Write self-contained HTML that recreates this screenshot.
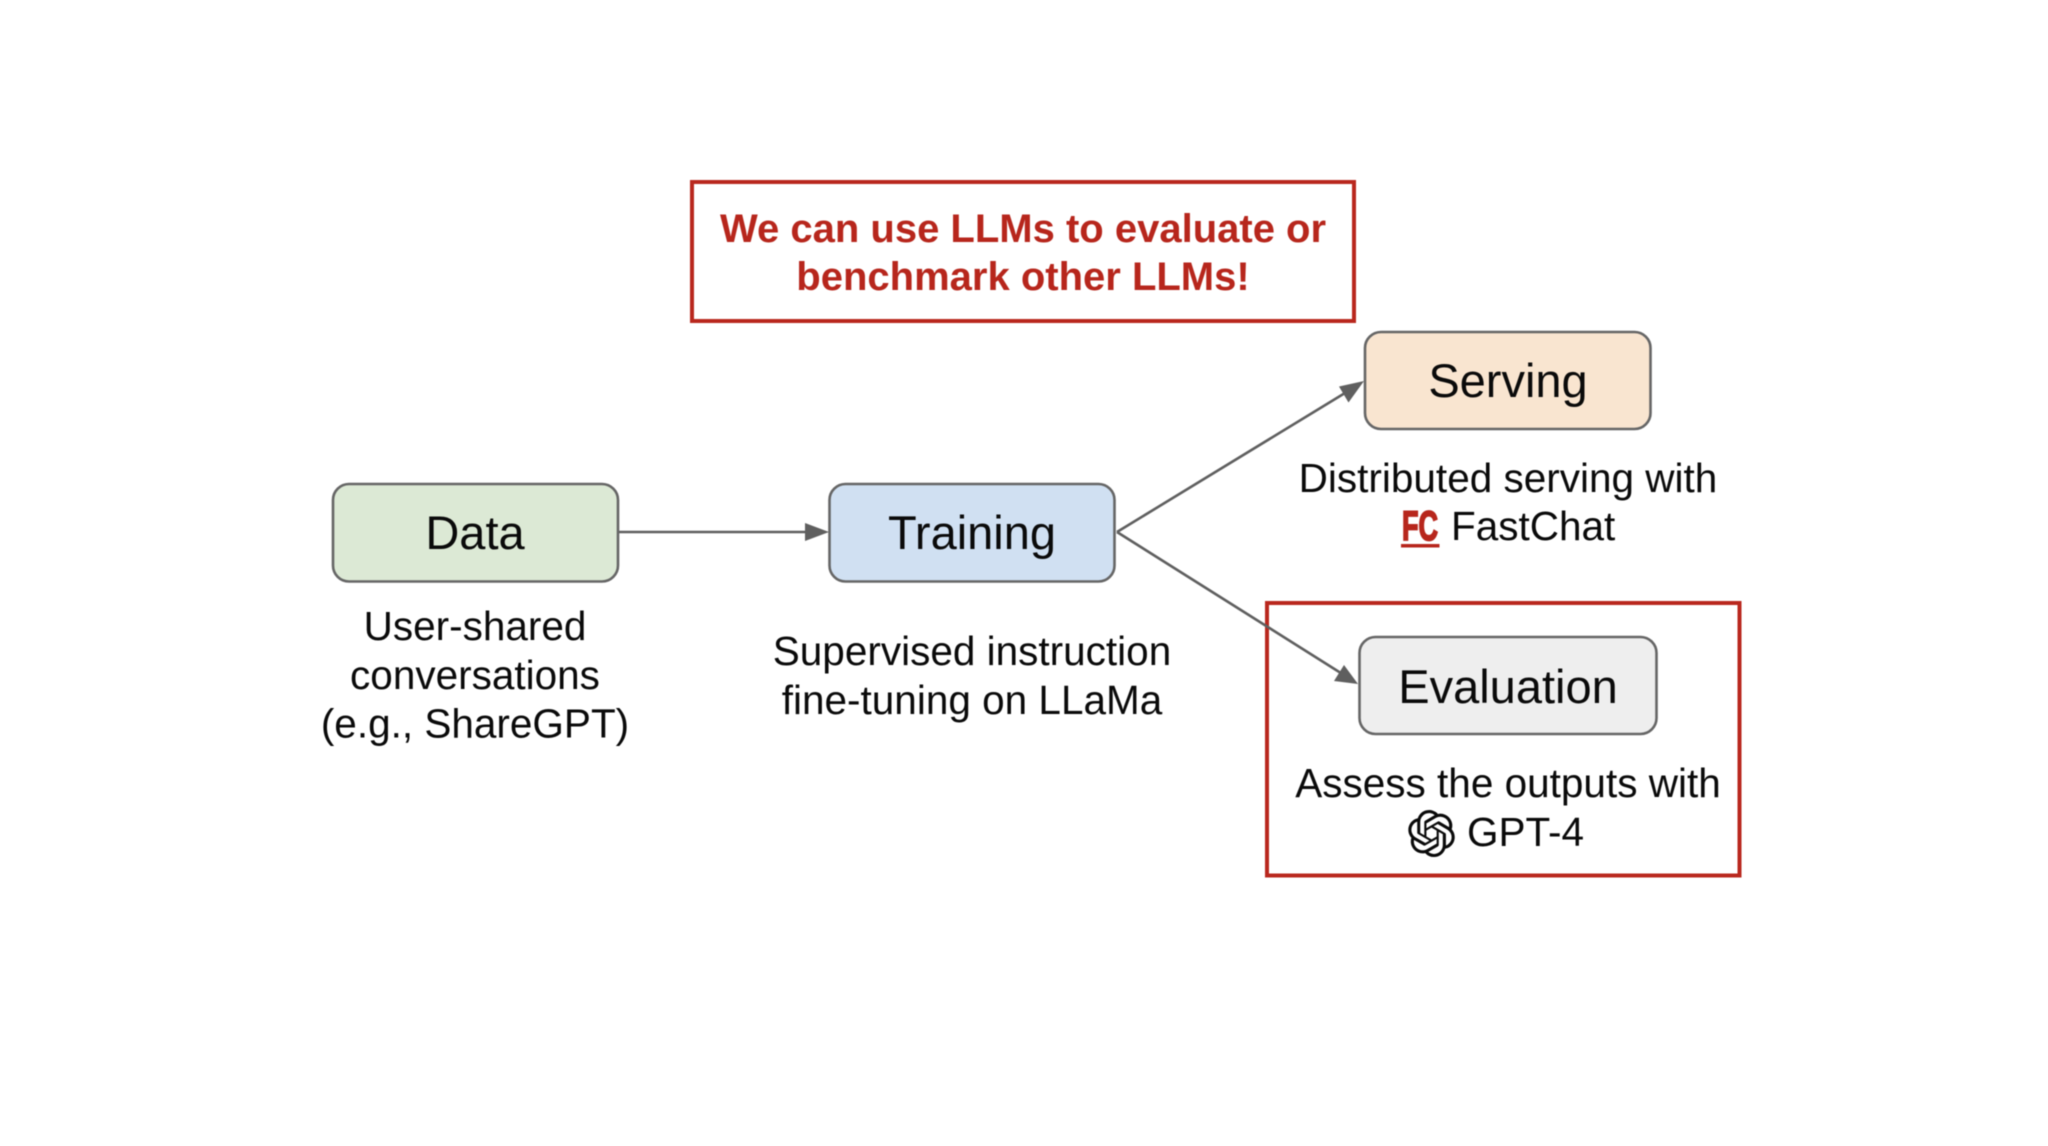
<!DOCTYPE html>
<html>
<head>
<meta charset="utf-8">
<style>
html,body{margin:0;padding:0;background:#fff;width:2048px;height:1146px;overflow:hidden}
svg{display:block;filter:blur(.45px)}
text{font-family:"Liberation Sans",Arial,sans-serif;fill:#0a0a0a}
.n{font-size:47px;text-anchor:middle}
.d{font-size:40.500px;text-anchor:middle}
.t{font-size:40px;font-weight:bold;text-anchor:middle;fill:#b7261c}
.b{stroke:#666;stroke-width:2.6}
.r{fill:none;stroke:#b9281e;stroke-width:4}
.l{stroke:#5f5f5f;stroke-width:2.6;fill:none}
.a{fill:#5f5f5f}
</style>
</head>
<body>
<svg width="2048" height="1146" viewBox="0 0 2048 1146" xmlns="http://www.w3.org/2000/svg">
<rect width="2048" height="1146" fill="#fff"/>

<rect class="r" x="692" y="182" width="662" height="139"/>
<text class="t" x="1023" y="242">We can use LLMs to evaluate or</text>
<text class="t" x="1023" y="290">benchmark other LLMs!</text>

<rect class="r" x="1267" y="603" width="472.500" height="272.500"/>

<line class="l" x1="617" y1="532" x2="808" y2="532"/>
<polygon class="a" points="829,532 805,523 805,541"/>
<line class="l" x1="1117" y1="532" x2="1345" y2="393"/>
<polygon class="a" points="1364,381 1348.500,402.500 1339,386.500"/>
<line class="l" x1="1117" y1="532" x2="1340" y2="672.500"/>
<polygon class="a" points="1358,684 1334,681 1344,665"/>

<rect class="b" x="333" y="484" width="285" height="97.500" rx="16" fill="#dce9d5"/>
<rect class="b" x="829.500" y="484" width="285" height="97.500" rx="16" fill="#d0e0f2"/>
<rect class="b" x="1365" y="332" width="285.500" height="97" rx="16" fill="#f9e5d0"/>
<rect class="b" x="1359.500" y="637" width="297" height="97" rx="16" fill="#eeeeee"/>

<text class="n" x="475" y="549">Data</text>
<text class="n" x="972" y="549">Training</text>
<text class="n" x="1508" y="397">Serving</text>
<text class="n" x="1508" y="703">Evaluation</text>

<text class="d" x="475" y="640">User-shared</text>
<text class="d" x="475" y="689">conversations</text>
<text class="d" x="475" y="737.500">(e.g., ShareGPT)</text>

<text class="d" x="972" y="665">Supervised instruction</text>
<text class="d" x="972" y="714">fine-tuning on LLaMa</text>

<text class="d" x="1508" y="492">Distributed serving with</text>
<text x="1402" y="540" font-size="42" font-weight="bold" textLength="36" lengthAdjust="spacingAndGlyphs" style="fill:#b7261c;stroke:#b7261c;stroke-width:1.800">FC</text>
<rect x="1401" y="544" width="38.500" height="3.500" fill="#b7261c"/>
<text x="1451" y="540" font-size="40.500">FastChat</text>

<text class="d" x="1508" y="797">Assess the outputs with</text>
<path transform="translate(1408 810) scale(1.96)" fill="#0a0a0a" d="M22.2819 9.8211a5.9847 5.9847 0 0 0-.5157-4.9108 6.0462 6.0462 0 0 0-6.5098-2.9A6.0651 6.0651 0 0 0 4.9807 4.1818a5.9847 5.9847 0 0 0-3.9977 2.9 6.0462 6.0462 0 0 0 .7427 7.0966 5.98 5.98 0 0 0 .511 4.9107 6.051 6.051 0 0 0 6.5146 2.9001A5.9847 5.9847 0 0 0 13.2599 24a6.0557 6.0557 0 0 0 5.7718-4.2058 5.9894 5.9894 0 0 0 3.9977-2.9001 6.0557 6.0557 0 0 0-.7475-7.0729zm-9.022 12.6081a4.4755 4.4755 0 0 1-2.8764-1.0408l.1419-.0804 4.7783-2.7582a.7948.7948 0 0 0 .3927-.6813v-6.7369l2.02 1.1686a.071.071 0 0 1 .038.052v5.5826a4.504 4.504 0 0 1-4.4945 4.4944zm-9.6607-4.1254a4.4708 4.4708 0 0 1-.5346-3.0137l.142.0852 4.783 2.7582a.7712.7712 0 0 0 .7806 0l5.8428-3.3685v2.3324a.0804.0804 0 0 1-.0332.0615L9.74 19.9502a4.4992 4.4992 0 0 1-6.1408-1.6464zM2.3408 7.8956a4.485 4.485 0 0 1 2.3655-1.9728V11.6a.7664.7664 0 0 0 .3879.6765l5.8144 3.3543-2.0201 1.1685a.0757.0757 0 0 1-.071 0l-4.8303-2.7865A4.504 4.504 0 0 1 2.3408 7.872zm16.5963 3.8558L13.1038 8.364 15.1192 7.2a.0757.0757 0 0 1 .071 0l4.8303 2.7913a4.4944 4.4944 0 0 1-.6765 8.1042v-5.6772a.79.79 0 0 0-.407-.667zm2.0107-3.0231l-.142-.0852-4.7735-2.7818a.7759.7759 0 0 0-.7854 0L9.409 9.2297V6.8974a.0662.0662 0 0 1 .0284-.0615l4.8303-2.7866a4.4992 4.4992 0 0 1 6.6802 4.66zM8.3065 12.863l-2.02-1.1638a.0804.0804 0 0 1-.038-.0567V6.0742a4.4992 4.4992 0 0 1 7.3757-3.4537l-.142.0805L8.704 5.459a.7948.7948 0 0 0-.3927.6813zm1.0976-2.3654l2.602-1.4998 2.6069 1.4998v2.9994l-2.5974 1.4997-2.6067-1.4997Z"/>
<text x="1467" y="846" font-size="40.500">GPT-4</text>
</svg>
</body>
</html>
